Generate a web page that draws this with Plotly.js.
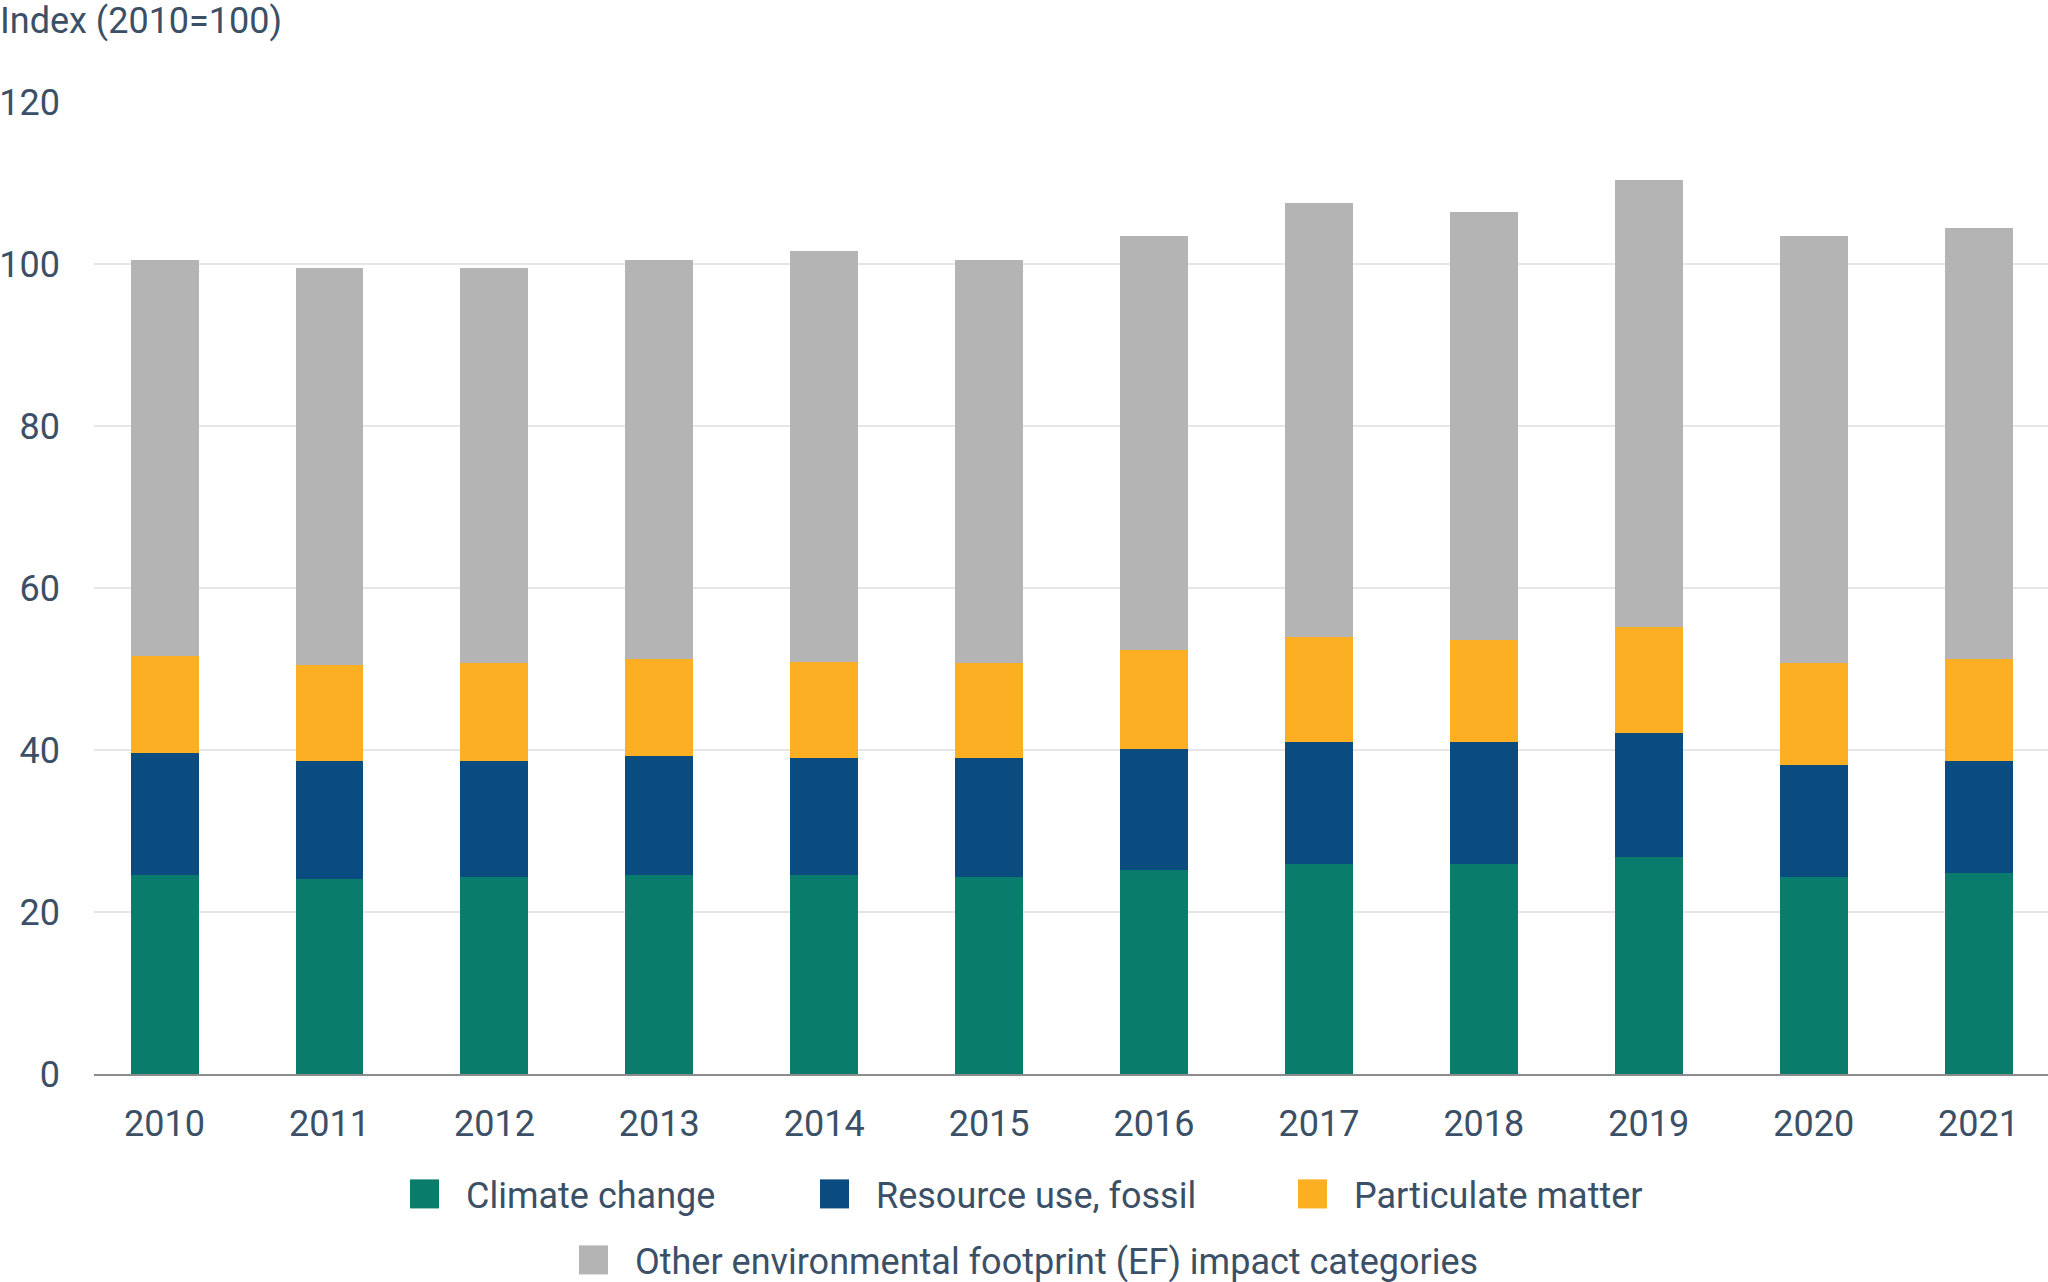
<!DOCTYPE html>
<html>
<head>
<meta charset="utf-8">
<script src="https://cdn.plot.ly/plotly-3.0.1.min.js"></script>
<style>
  html, body { margin: 0; padding: 0; background: #ffffff; }
  #chart { width: 2048px; height: 1282px; }
</style>
</head>
<body>
<div id="chart"></div>
<script>
// ---- data ----
const years = ['2010','2011','2012','2013','2014','2015','2016','2017','2018','2019','2020','2021'];
const climateChange = [24.6, 24.1, 24.3, 24.6, 24.6, 24.3, 25.2, 25.9, 25.9, 26.8, 24.3, 24.8];
const resourceUseFossil = [15.0, 14.6, 14.4, 14.6, 14.4, 14.7, 14.9, 15.1, 15.1, 15.3, 13.8, 13.9];
const particulateMatter = [12.0, 11.8, 12.0, 12.0, 11.9, 11.7, 12.2, 12.9, 12.6, 13.1, 12.7, 12.5];
const otherEF = [48.9, 49.0, 48.8, 49.3, 50.7, 49.8, 51.2, 53.6, 52.8, 55.2, 52.7, 53.2];
const seriesNames = ['Climate change', 'Resource use, fossil', 'Particulate matter',
                     'Other environmental footprint (EF) impact categories'];
const yTickVals = [0, 20, 40, 60, 80, 100, 120];
const yAxisLabel = 'Index (2010=100)';

// ---- styling ----
const colors = ['#0a7c6c', '#0a4c80', '#fcaf22', '#b3b4b3'];
const textColor = '#3b5066';
const FONT = 'Roboto, "Open Sans", sans-serif';
const W = 2048, H = 1282;

const seriesValues = [climateChange, resourceUseFossil, particulateMatter, otherEF];
const legendIds = ['legend', 'legend2', 'legend3', 'legend4'];
// legend positions (container px: text start x, centre y)
const legendPos = [[466, 1194], [876, 1194], [1354, 1194], [635, 1260]];
const ITEMW = 73;                 // symbol area width -> text starts at ITEMW + 10
const TEXT_OFFSET = ITEMW + 10;

const traces = seriesValues.map((vals, i) => ({
  type: 'bar',
  x: years,
  y: vals,
  name: seriesNames[i],
  legend: legendIds[i],
  marker: { color: colors[i], line: { width: 0 } },
  hoverinfo: 'x+y+name'
}));

const legendCommon = {
  orientation: 'h',
  xref: 'container', yref: 'container',
  xanchor: 'left', yanchor: 'middle',
  itemwidth: ITEMW,
  font: { family: FONT, size: 36, color: textColor },
  bgcolor: 'rgba(0,0,0,0)',
  borderwidth: 0
};

const layout = {
  width: W, height: H,
  paper_bgcolor: '#ffffff',
  plot_bgcolor: '#ffffff',
  font: { family: FONT, size: 36, color: textColor },
  barmode: 'stack',
  bargap: 0.588,
  margin: { l: 94, r: 0, t: 102, b: 208, pad: 0 },
  title: {
    text: yAxisLabel,
    font: { family: FONT, size: 36, color: textColor },
    x: 0, xref: 'container', xanchor: 'left',
    y: 1 - 20 / H, yref: 'container', yanchor: 'middle',
    pad: { l: 0, t: 0 }
  },
  xaxis: {
    type: 'category',
    range: [-0.428, 11.421],
    showgrid: false,
    showline: true,
    linecolor: '#8c8c8c',
    linewidth: 2,
    ticks: '',
    ticklabelstandoff: 17,
    tickfont: { family: FONT, size: 36, color: textColor },
    fixedrange: true
  },
  yaxis: {
    range: [0, 120],
    tickvals: yTickVals,
    ticktext: yTickVals.map(String),
    showgrid: true,
    gridcolor: '#e6e6e6',
    gridwidth: 2,
    zeroline: false,
    showline: false,
    ticks: '',
    ticklabelstandoff: 33,
    tickfont: { family: FONT, size: 36, color: textColor },
    fixedrange: true
  },
  showlegend: true
};

legendIds.forEach((id, i) => {
  layout[id] = Object.assign({}, legendCommon, {
    x: (legendPos[i][0] - TEXT_OFFSET) / W,
    y: 1 - legendPos[i][1] / H
  });
});

Plotly.newPlot('chart', traces, layout, { displayModeBar: false, responsive: false }).then(gd => {
  // enlarge legend swatches to match the reference square size (~29px)
  gd.querySelectorAll('.legendpoints path').forEach(p => {
    const t = p.getAttribute('transform') || '';
    p.setAttribute('transform', t + ' scale(2.42)');
  });
});
</script>
</body>
</html>
